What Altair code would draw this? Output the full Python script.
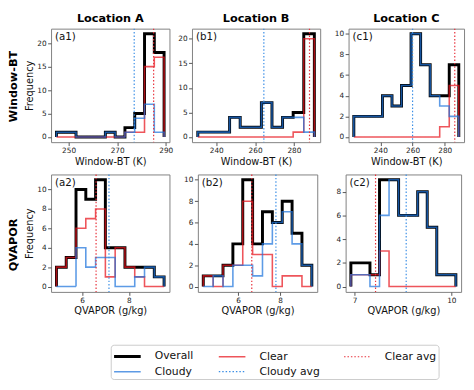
import altair as alt
import numpy as np
import pandas as pd

SERIES = ["Overall", "Clear", "Clear avg", "Cloudy", "Cloudy avg"]
COLORS = ["#000000", "#e8141c", "#e8303a", "#1f74dc", "#3a8ee6"]
DASHES = [[1, 0], [1, 0], [1.5, 2], [1, 0], [1.5, 2]]
WIDTHS = [3, 1.6, 1.2, 1.6, 1.2]
OPACS = [1, 0.72, 1, 0.72, 1]

locations = ["Location A", "Location B", "Location C"]
row_titles = ["Window-BT", "QVAPOR"]
x_titles = ["Window-BT (K)", "QVAPOR (g/kg)"]

# ---- Window-BT (K), 11 equal bins between range ends ----
a1_range = [245.0, 289.3]
a1_overall = [1, 1, 0, 0, 0, 1, 0, 2, 5, 22, 18]
a1_cloudy = [1, 1, 0, 0, 0, 1, 0, 1, 4, 7, 1]
a1_clear = [0, 0, 0, 0, 0, 0, 0, 1, 1, 15, 17]
a1_avgs = [277.0, 285.0]          # cloudy avg, clear avg

b1_range = [230.5, 290.5]
b1_overall = [1, 1, 1, 4, 2, 2, 7, 2, 4, 5, 21]
b1_cloudy = [1, 1, 1, 4, 2, 2, 7, 2, 4, 4, 1]
b1_clear = [0, 0, 0, 0, 0, 0, 0, 0, 0, 1, 20]
b1_avgs = [264.5, 288.0]

c1_range = [223.5, 288.7]
c1_overall = [2, 2, 2, 4, 3, 5, 10, 7, 4, 4, 7]
c1_cloudy = [2, 2, 2, 4, 3, 5, 10, 7, 4, 3, 2]
c1_clear = [0, 0, 0, 0, 0, 0, 0, 0, 0, 1, 5]
c1_avgs = [260.0, 286.2]

# ---- QVAPOR (g/kg) ----
a2_range = [4.91, 9.50]
a2_overall = [2, 3, 10, 9, 11, 4, 4, 2, 2, 2, 1]
a2_cloudy = [0, 0, 4, 2, 3, 3, 0, 0, 1, 2, 1]
a2_clear = [2, 3, 6, 7, 8, 1, 4, 2, 1, 0, 0]
a2_avgs = [7.15, 6.6]

b2_range = [4.34, 9.51]
b2_overall = [1, 1, 2, 4, 10, 4, 7, 6, 8, 5, 2]
b2_cloudy = [0, 1, 0, 2, 2, 1, 4, 6, 7, 4, 2]
b2_clear = [1, 0, 2, 2, 8, 3, 3, 0, 1, 1, 0]
b2_avgs = [7.8, 6.65]

c2_range = [6.885, 10.14]
c2_overall = [2, 2, 1, 9, 9, 6, 6, 8, 5, 1, 1]
c2_cloudy = [1, 1, 0, 6, 9, 6, 6, 8, 5, 1, 1]
c2_clear = [1, 1, 1, 3, 0, 0, 0, 0, 0, 0, 0]
c2_avgs = [8.6, 7.65]

a1_xticks = [250, 260, 270, 280, 290]
b1_xticks = [240, 260, 280]
c1_xticks = [240, 260, 280]
a2_xticks = [6, 8]
b2_xticks = [6, 8]
c2_xticks = [7, 8, 9, 10]
a1_yticks = [0, 5, 10, 15, 20]
b1_yticks = [0, 5, 10, 15, 20]
c1_yticks = [0, 2, 4, 6, 8, 10]
a2_yticks = [0, 2, 4, 6, 8, 10]
b2_yticks = [0, 2, 4, 6, 8, 10]
c2_yticks = [0, 2, 4, 6, 8]

FONT = "DejaVu Sans"

color_enc = alt.Color("series:N", scale=alt.Scale(domain=SERIES, range=COLORS), title=None)
dash_enc = alt.StrokeDash("series:N", scale=alt.Scale(domain=SERIES, range=DASHES), title=None)
width_enc = alt.StrokeWidth("series:N", scale=alt.Scale(type="ordinal", domain=SERIES, range=WIDTHS), title=None)
opac_enc = alt.Opacity("series:N", scale=alt.Scale(type="ordinal", domain=SERIES, range=OPACS), title=None)


def panel(rng, overall, cloudy, clear, avgs, xticks, yticks, label, w, h,
          xtitle, ytitle=None, title=None, y_extent=None):
    edges = np.linspace(rng[0], rng[1], len(overall) + 1)
    rows = []
    for name, counts in [("Overall", overall), ("Clear", clear), ("Cloudy", cloudy)]:
        pts = [(edges[0], 0)]
        for i, c in enumerate(counts):
            pts += [(edges[i], c), (edges[i + 1], c)]
        pts.append((edges[-1], 0))
        for k, (x, y) in enumerate(pts):
            rows.append({"x": float(x), "y": y, "series": name, "k": k})
    hist = pd.DataFrame(rows)
    avg = pd.DataFrame({"x": avgs, "series": ["Cloudy avg", "Clear avg"]})
    span = rng[1] - rng[0]
    xdom = [rng[0] - 0.05 * span, rng[1] + 0.05 * span]
    ymax = max(overall)
    ydom = [-0.05 * ymax, 1.05 * ymax]
    yaxis_kw = dict(values=yticks, title=ytitle)
    if y_extent is not None:
        yaxis_kw.update(minExtent=y_extent, maxExtent=y_extent)
    xenc = alt.X("x:Q", scale=alt.Scale(domain=xdom, nice=False, zero=False),
                 axis=alt.Axis(values=xticks, title=xtitle, labelOverlap=False,
                               labelFlush=False))
    yenc = alt.Y("y:Q", scale=alt.Scale(domain=ydom, nice=False, zero=False),
                 axis=alt.Axis(**yaxis_kw))
    enc = dict(color=color_enc, strokeDash=dash_enc, strokeWidth=width_enc, opacity=opac_enc)
    layers = []
    for name in ["Overall", "Clear", "Cloudy"]:
        layers.append(
            alt.Chart(hist[hist.series == name]).mark_line(strokeJoin="miter", strokeCap="butt")
            .encode(x=xenc, y=yenc, order="k:Q", **enc)
        )
    rules = alt.Chart(avg).mark_rule().encode(x="x:Q", **enc)
    txt = alt.Chart(pd.DataFrame({"t": [label]})).mark_text(
        align="left", baseline="top", fontSize=10.5, font=FONT, color="#111"
    ).encode(x=alt.value(4), y=alt.value(4), text="t:N")
    props = dict(width=w, height=h)
    if title is not None:
        props["title"] = alt.Title(title, frame="group")
    return alt.layer(*layers, rules, txt).properties(**props)


H1, H2 = 116, 120
a1 = panel(a1_range, a1_overall, a1_cloudy, a1_clear, a1_avgs, a1_xticks, a1_yticks, "(a1)",
           121, H1, x_titles[0], "Frequency", locations[0])
b1 = panel(b1_range, b1_overall, b1_cloudy, b1_clear, b1_avgs, b1_xticks, b1_yticks, "(b1)",
           131, H1, x_titles[0], None, locations[1], y_extent=15)
c1 = panel(c1_range, c1_overall, c1_cloudy, c1_clear, c1_avgs, c1_xticks, c1_yticks, "(c1)",
           118, H1, x_titles[0], None, locations[2], y_extent=24)
a2 = panel(a2_range, a2_overall, a2_cloudy, a2_clear, a2_avgs, a2_xticks, a2_yticks, "(a2)",
           121, H2, x_titles[1], "Frequency")
b2 = panel(b2_range, b2_overall, b2_cloudy, b2_clear, b2_avgs, b2_xticks, b2_yticks, "(b2)",
           122, H2, x_titles[1], None, y_extent=24)
c2 = panel(c2_range, c2_overall, c2_cloudy, c2_clear, c2_avgs, c2_xticks, c2_yticks, "(c2)",
           118, H2, x_titles[1], None, y_extent=24)

row1 = alt.hconcat(a1, b1, c1, spacing=3,
                   title=alt.Title(row_titles[0], orient="left", anchor="middle",
                                   frame="bounds", offset=5, dx=3))
row2 = alt.hconcat(a2, b2, c2, spacing=3,
                   title=alt.Title(row_titles[1], orient="left", anchor="middle",
                                   frame="bounds", offset=5))

chart = (
    alt.vconcat(row1, row2, spacing=6)
    .properties(padding=0)
    .configure(font=FONT)
    .configure_view(stroke="#808080", strokeWidth=1)
    .configure_title(font=FONT, fontSize=11.5, fontWeight="bold", color="#000",
                     anchor="middle", offset=4)
    .configure_axis(labelFont=FONT, titleFont=FONT, labelFontSize=7.5, titleFontSize=10,
                    titleFontWeight="normal", labelColor="#222", titleColor="#111",
                    tickColor="#555", tickSize=3.5, domain=False, grid=False,
                    labelPadding=1.5, titlePadding=2)
    .configure_legend(orient="none", legendX=61, legendY=323, columns=3,
                      direction="horizontal", symbolType="M-1.6,0H1.6", symbolSize=289,
                      symbolOffset=5, labelOffset=18,
                      labelFont=FONT, labelFontSize=11, labelColor="#111",
                      columnPadding=22, rowPadding=-1, padding=2,
                      strokeColor="#cccccc", fillColor="white", cornerRadius=3)
)

chart.save("out.html", embed_options={"renderer": "svg", "actions": False})
